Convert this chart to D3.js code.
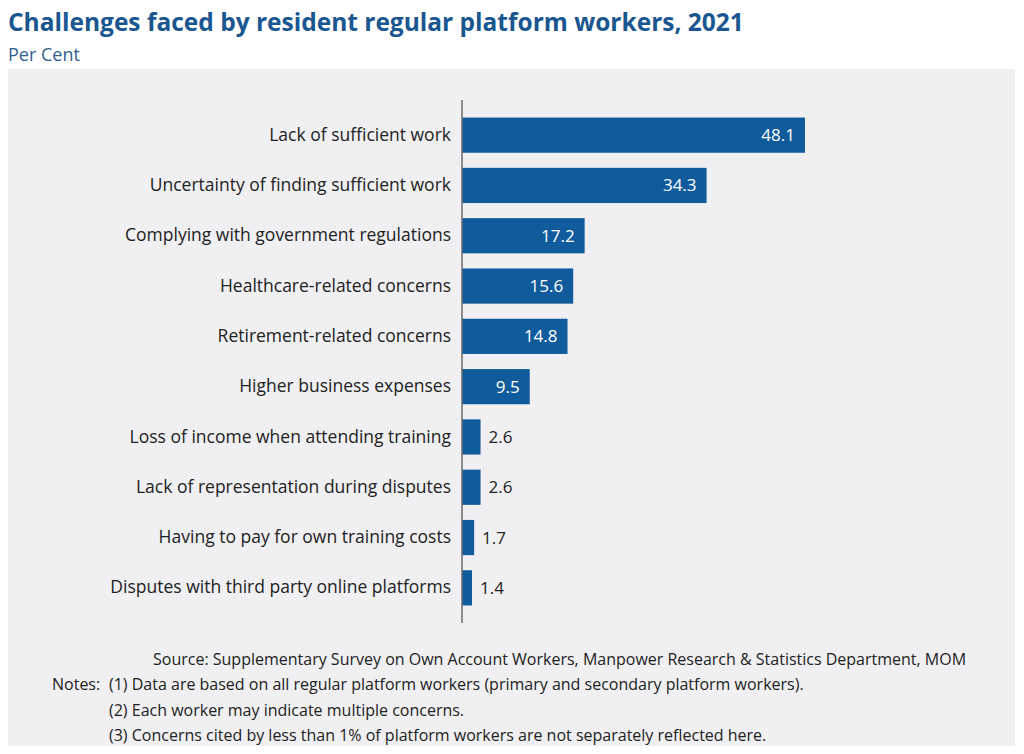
<!DOCTYPE html>
<html>
<head>
<meta charset="utf-8">
<script src="https://cdn.jsdelivr.net/npm/d3@7"></script>
<style>
  body { margin: 0; background: #fff; }
  text { font-family: "Open Sans", "Noto Sans", sans-serif; }
</style>
</head>
<body>
<div id="chart"></div>
<script>
// chart data
var categories = [
    "Lack of sufficient work",
    "Uncertainty of finding sufficient work",
    "Complying with government regulations",
    "Healthcare-related concerns",
    "Retirement-related concerns",
    "Higher business expenses",
    "Loss of income when attending training",
    "Lack of representation during disputes",
    "Having to pay for own training costs",
    "Disputes with third party online platforms"
];
var values = [48.1, 34.3, 17.2, 15.6, 14.8, 9.5, 2.6, 2.6, 1.7, 1.4];

var title = "Challenges faced by resident regular platform workers, 2021";
var subtitle = "Per Cent";
var source = "Source: Supplementary Survey on Own Account Workers, Manpower Research & Statistics Department, MOM";
var notes = [
    "(1) Data are based on all regular platform workers (primary and secondary platform workers).",
    "(2) Each worker may indicate multiple concerns.",
    "(3) Concerns cited by less than 1% of platform workers are not separately reflected here."
];

var w = 1024;
var h = 754;
var barColor = "#0f5b9c";

var data = categories.map(function(c, i) { return { name: c, value: values[i] }; });

var svg = d3.select("#chart")
            .append("svg")
            .attr("width", w)
            .attr("height", h);

//grey panel behind chart
svg.append("rect")
    .attr("x", 8)
    .attr("y", 69)
    .attr("width", 1007)
    .attr("height", 677)
    .attr("fill", "#f0f0f2");

//title and subtitle
svg.append("text")
    .attr("x", 8)
    .attr("y", 31)
    .attr("fill", "#1a5790")
    .style("font-size", "24.5px")
    .style("font-weight", "bold")
    .text(title);

svg.append("text")
    .attr("x", 8)
    .attr("y", 61)
    .attr("fill", "#2f5f8f")
    .style("font-size", "18px")
    .text(subtitle);

//scales
var xscale = d3.scaleLinear()
                .domain([0, 50])
                .range([462, 818.5]);

var yscale = d3.scaleBand()
                .domain(categories)
                .range([110, 613])
                .paddingInner(0.3)
                .paddingOuter(0.15);

//category labels via axis
var yaxis = d3.axisLeft(yscale)
                .tickSize(0)
                .tickPadding(11);

var gy = svg.append("g")
    .attr("transform", "translate(" + xscale(0) + ",0)")
    .call(yaxis);
gy.select(".domain").remove();
gy.selectAll("text")
    .attr("fill", "#222")
    .style("font-size", "17.5px")
    .style("font-family", "'Open Sans', 'Noto Sans', sans-serif");

//bars
svg.selectAll("rect.bar")
    .data(data)
    .enter()
    .append("rect")
    .attr("class", "bar")
    .attr("x", xscale(0))
    .attr("y", d => yscale(d.name))
    .attr("width", d => xscale(d.value) - xscale(0))
    .attr("height", yscale.bandwidth())
    .attr("fill", barColor);

//axis line drawn a bit past the bars
svg.append("line")
    .attr("x1", xscale(0))
    .attr("x2", xscale(0))
    .attr("y1", yscale.range()[0] - 10)
    .attr("y2", yscale.range()[1] + 10)
    .attr("stroke", "#6b6b6b")
    .attr("stroke-width", 1.5);

//value labels, inside for long bars and outside for short ones
svg.selectAll("text.val")
    .data(data)
    .enter()
    .append("text")
    .attr("class", "val")
    .attr("x", d => d.value > 5 ? xscale(d.value) - 10 : xscale(d.value) + 8)
    .attr("y", d => yscale(d.name) + yscale.bandwidth() / 2)
    .attr("dy", "0.35em")
    .attr("text-anchor", d => d.value > 5 ? "end" : "start")
    .attr("fill", d => d.value > 5 ? "#fff" : "#222")
    .style("font-size", "17px")
    .text(d => d.value.toFixed(1));

//source and notes
svg.append("text")
    .attr("x", 153)
    .attr("y", 665)
    .attr("fill", "#222")
    .style("font-size", "16px")
    .text(source);

svg.append("text")
    .attr("x", 52)
    .attr("y", 690)
    .attr("fill", "#222")
    .style("font-size", "16px")
    .text("Notes:");

svg.selectAll("text.note")
    .data(notes)
    .enter()
    .append("text")
    .attr("class", "note")
    .attr("x", 109)
    .attr("y", (d, i) => 690 + i * 25.5)
    .attr("fill", "#222")
    .style("font-size", "16px")
    .text(d => d);
</script>
</body>
</html>
